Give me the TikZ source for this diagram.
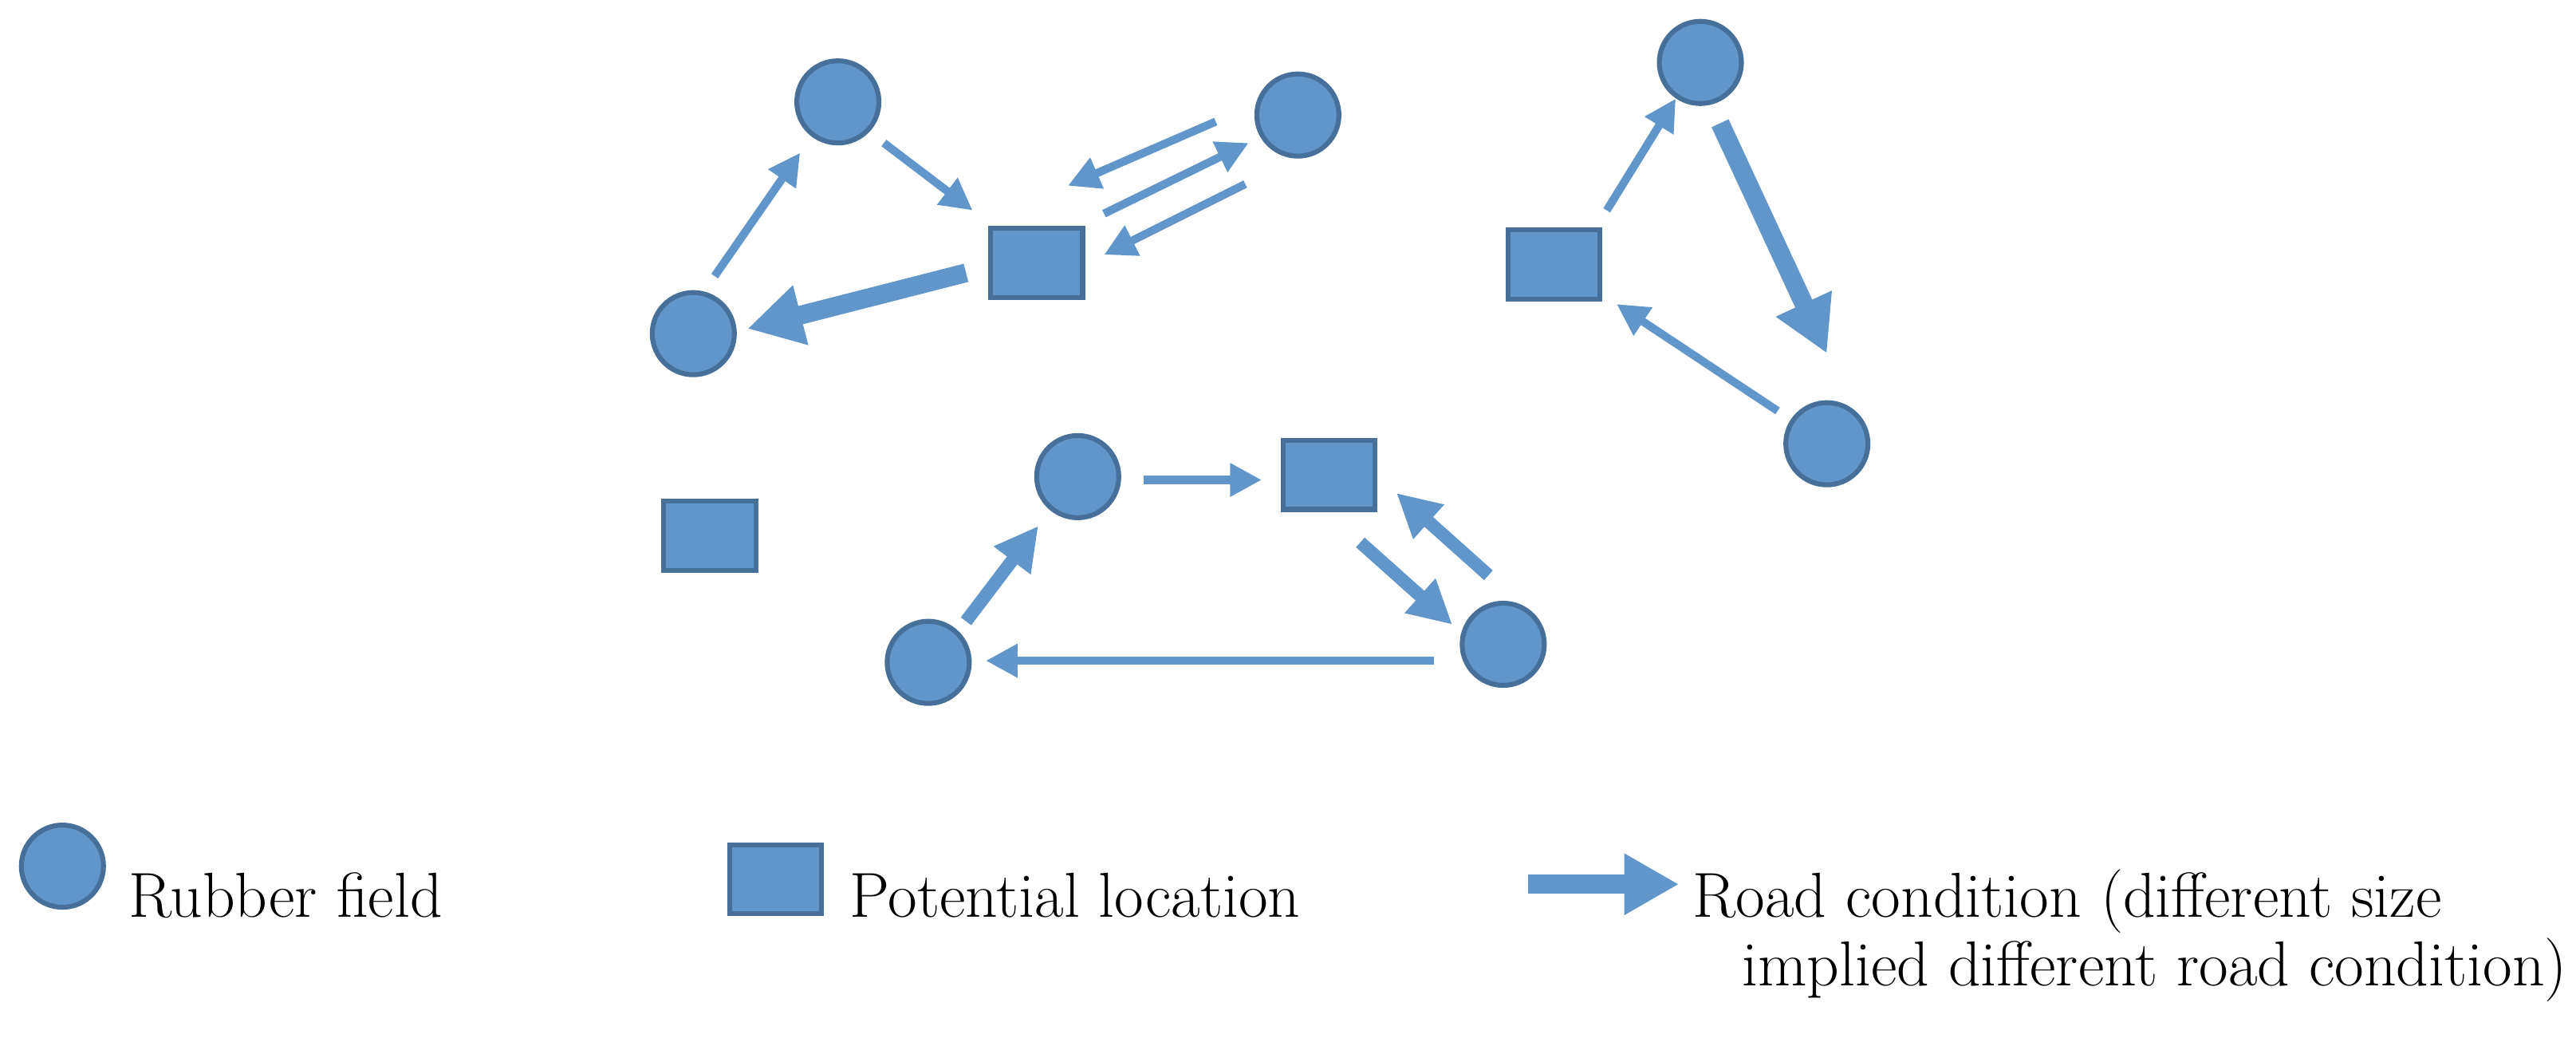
\documentclass[tikz,border=0pt]{standalone}
\usetikzlibrary{arrows.meta}
\begin{document}
\begin{tikzpicture}[x=0.02cm,y=-0.02cm,
  fld/.style={circle,draw=bdr,fill=fil,line width=1.7pt,minimum size=1cm,inner sep=0},
  loc/.style={rectangle,draw=bdr,fill=fil,line width=1.7pt,minimum width=1.12cm,minimum height=0.84cm,inner sep=0},
  thin/.style={draw=fil,line width=2.8pt,-{Triangle[length=11pt,width=11pt]}},
  med/.style={draw=fil,line width=4.5pt,-{Triangle[length=15pt,width=15pt]}},
  thk/.style={draw=fil,line width=6.5pt,-{Triangle[length=19pt,width=20pt]}},
  lbl/.style={anchor=base west,font=\fontsize{22}{27}\selectfont,inner sep=0}]
\definecolor{fil}{HTML}{6096CA}
\definecolor{bdr}{HTML}{46709A}
\useasboundingbox (0,0) rectangle (1568,641);
\node[fld] (c1) at (510,62) {};
\node[fld] (c2) at (790,70) {};
\node[fld] (c3) at (422,203) {};
\node[loc] (s1) at (631,160) {};
\node[fld] (c4) at (1035,38) {};
\node[loc] (s2) at (946,161) {};
\node[fld] (c5) at (1112,270) {};
\node[loc] (s3) at (432,326) {};
\node[fld] (c6) at (656,290) {};
\node[loc] (s4) at (809,289) {};
\node[fld] (c7) at (915,392) {};
\node[fld] (c8) at (565,403) {};
\coordinate (p1a) at (740,74); \coordinate (p1b) at (650,113);
\coordinate (p2a) at (672,130); \coordinate (p2b) at (760,87);
\coordinate (p3a) at (758,112); \coordinate (p3b) at (672,155);
\coordinate (a1) at (435,168); \coordinate (b1) at (487,93);
\coordinate (a2) at (538,87); \coordinate (b2) at (592,128);
\coordinate (a3) at (588,166); \coordinate (b3) at (455,200);
\coordinate (a4) at (978,128); \coordinate (b4) at (1020,60);
\coordinate (a5) at (1047,75); \coordinate (b5) at (1112,215);
\coordinate (a6) at (1082,250); \coordinate (b6) at (984,185);
\coordinate (a7) at (588,378); \coordinate (b7) at (632,320);
\coordinate (a8) at (696,292); \coordinate (b8) at (768,292);
\coordinate (a9) at (828,330); \coordinate (b9) at (884,380);
\coordinate (a10) at (906,350); \coordinate (b10) at (850,300);
\coordinate (a11) at (873,402); \coordinate (b11) at (600,402);
\draw[thin] (a1) -- (b1);
\draw[thin] (a2) -- (b2);
\draw[thk] (a3) -- (b3);
\draw[thin] (p1a) -- (p1b);
\draw[thin] (p2a) -- (p2b);
\draw[thin] (p3a) -- (p3b);
\draw[thin] (a4) -- (b4);
\draw[thk] (a5) -- (b5);
\draw[thin] (a6) -- (b6);
\draw[med] (a7) -- (b7);
\draw[thin] (a8) -- (b8);
\draw[med] (a9) -- (b9);
\draw[med] (a10) -- (b10);
\draw[thin] (a11) -- (b11);
% legend
\node[fld] (lc) at (38,527) {};
\node[lbl] (t1) at (78,558) {Rubber field};
\node[loc] (ls) at (472,535) {};
\node[lbl] (t2) at (517,558) {Potential location};
\coordinate (la) at (930,538); \coordinate (lb) at (1022,538);
\draw[thk] (la) -- (lb);
\node[lbl] (t3) at (1030,558) {Road condition (different size};
\node[lbl] (t4) at (1060,600) {implied different road condition)};
\end{tikzpicture}
\end{document}
